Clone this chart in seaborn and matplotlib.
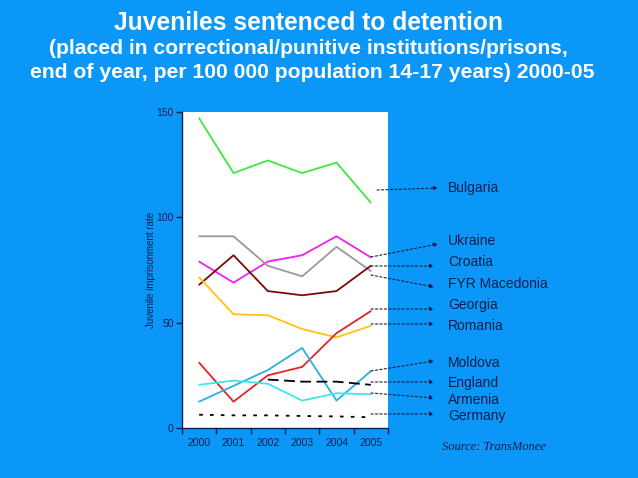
import seaborn as sns
import matplotlib.pyplot as plt
import pandas as pd

# data (rate per 100 000 population aged 14-17)
years = ['2000', '2001', '2002', '2003', '2004', '2005']
bulgaria = [147, 121, 127, 121, 126, 107]
ukraine = [79, 69, 79, 82, 91, 81]
fyr_macedonia = [91, 91, 77, 72, 86, 74.5]
croatia = [68, 82, 65, 63, 65, 77]
romania = [71.5, 54, 53.5, 47, 43, 48.5]
georgia = [31, 12.5, 25, 29, 45, 55.5]
moldova = [12.5, 20, 27.5, 38, 13, 27]
armenia = [20.5, 22.5, 21, 13, 16.5, 16]
england = [None, None, 23, 22, 22, 20.5]
germany = [6.3, 6, 6, 5.7, 5.5, 5.1]

series = {
    'Bulgaria': bulgaria, 'Ukraine': ukraine, 'FYR Macedonia': fyr_macedonia,
    'Croatia': croatia, 'Romania': romania, 'Georgia': georgia,
    'Moldova': moldova, 'Armenia': armenia, 'England': england, 'Germany': germany,
}
styles = {
    'Bulgaria': dict(color='#3ee83e'), 'Ukraine': dict(color='#ee22ee'),
    'FYR Macedonia': dict(color='#999999'), 'Croatia': dict(color='#7a0a0a'),
    'Romania': dict(color='#ffc20e'), 'Georgia': dict(color='#e02525'),
    'Moldova': dict(color='#2ab0e0'), 'Armenia': dict(color='#3ee6f0'),
    'England': dict(color='black', linestyle=(0, (6, 3)), lw=1.3),
    'Germany': dict(color='black', linestyle=(0, (2, 4)), lw=1.3),
}

bg = '#0a97f7'
navy = '#0d1f4f'

sns.set_style('white')
plt.rcParams['font.family'] = ['Liberation Sans', 'DejaVu Sans']

fig = plt.figure(figsize=(6.38, 4.78), dpi=100, facecolor=bg)
ax = fig.add_axes([182 / 638, 50 / 478, 206 / 638, 316 / 478])
ax.set_facecolor('white')

idx = list(range(len(years)))
for name, vals in series.items():
    df = pd.DataFrame({'x': idx, 'y': vals}).dropna()
    st = dict(lw=1.3)
    st.update(styles[name])
    sns.lineplot(data=df, x='x', y='y', ax=ax, **st)

ax.set_xlim(-0.5, 5.5)
ax.set_ylim(0, 150)
ax.set_yticks([0, 50, 100, 150])
ax.set_xticks([i - 0.5 for i in range(7)])
ax.set_xticklabels([])
ax.set_xticks(idx, minor=True)
ax.set_xticklabels(years, minor=True)
ax.tick_params(axis='x', which='major', direction='out', length=4, width=1, color=navy, bottom=True)
ax.tick_params(axis='x', which='minor', length=0, pad=7, labelsize=7.5, labelcolor=navy)
ax.tick_params(axis='y', direction='out', length=4, width=1, color=navy, left=True,
               labelsize=7.5, labelcolor=navy, pad=2)
for s in ['top', 'right']:
    ax.spines[s].set_visible(False)
for s in ['left', 'bottom']:
    ax.spines[s].set_color(navy)
    ax.spines[s].set_linewidth(1)
ax.set_xlabel('')
ax.set_ylabel('Juvenile imprisonment rate', fontsize=7, color=navy, labelpad=0)

# titles
fig.text(0.484, 1 - 23 / 478, 'Juveniles sentenced to detention', ha='center', va='center',
         color='white', fontsize=17.7, fontweight='bold')
fig.text(0.484, 1 - 49 / 478, '(placed in correctional/punitive institutions/prisons,', ha='center',
         va='center', color='white', fontsize=15.2, fontweight='bold')
fig.text(0.489, 1 - 72 / 478, 'end of year, per 100 000 population 14-17 years) 2000-05', ha='center',
         va='center', color='white', fontsize=15.2, fontweight='bold')

# labels with dashed arrows (figure pixel positions, measured from top)
label_pos = {
    'Bulgaria': ((377, 190), (438, 188), 188),
    'Ukraine': ((371, 257), (438, 244), 241),
    'Croatia': ((371, 266), (434, 266), 262),
    'FYR Macedonia': ((371, 275), (434, 287), 284),
    'Georgia': ((371, 309), (434, 309), 305),
    'Romania': ((371, 324), (434, 324), 326),
    'Moldova': ((371, 371), (434, 361), 363),
    'England': ((371, 382), (434, 382), 383),
    'Armenia': ((371, 393), (434, 398), 400),
    'Germany': ((371, 414), (434, 414), 416),
}
for name, (start, end, ty) in label_pos.items():
    ax.annotate('', xy=(end[0], 478 - end[1]), xycoords='figure pixels',
                xytext=(start[0], 478 - start[1]), textcoords='figure pixels',
                arrowprops=dict(arrowstyle='-|>', linestyle=(0, (2, 2)), lw=0.8,
                                color=navy, mutation_scale=6, shrinkA=0, shrinkB=0))
    fig.text(448 / 638, 1 - ty / 478, name, ha='left', va='center', color=navy, fontsize=10)

fig.text(442 / 638, 1 - 447 / 478, 'Source: TransMonee', ha='left', va='center', color=navy,
         fontsize=9, style='italic', family=['Liberation Serif', 'DejaVu Serif'])

fig.savefig('out.png', dpi=100, facecolor=bg)
